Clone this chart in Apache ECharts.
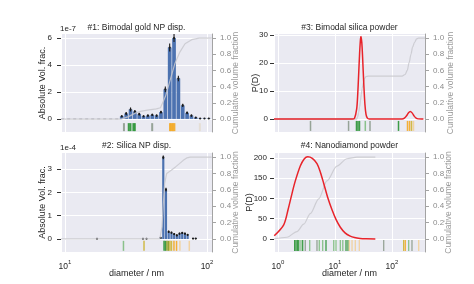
<!DOCTYPE html>
<html>
<head>
<meta charset="utf-8">
<script src="https://cdn.jsdelivr.net/npm/echarts@6/dist/echarts.min.js"></script>
<style>
  html, body { margin: 0; padding: 0; background: #fff; }
  #chart { width: 474px; height: 284px; }
</style>
</head>
<body>
<div id="chart"></div>
<script>
  const FONT = 'Liberation Sans';

  const panelTitles = ['#1: Bimodal gold NP disp.', '#2: Silica NP disp.', '#3: Bimodal silica powder', '#4: Nanodiamond powder'];
  const scaleNotes = ['1e-7', '1e-4'];

  // tick labels
  const leftTicks = [[0, 2, 4, 6], [0, 1, 2, 3], [0, 10, 20, 30], [0, 50, 100, 150, 200]];
  const cumTicks = [0, 0.2, 0.4, 0.6, 0.8, 1.0];
  const xTicksNp = [10, 100];
  const xTicksPowder = [1, 10, 100];

  // #1 gold NP: bin centre (nm), abs. vol. fraction (x1e-7), error
  const goldD = [25.1, 26.96, 28.93, 31.04, 33.31, 35.74, 38.35, 41.16, 44.17, 47.39, 50.85, 54.58, 58.57, 62.85, 67.44, 72.37, 77.66, 83.32, 89.42, 95.94, 102.9];
  const goldV = [0.2, 0.4, 0.7, 0.55, 0.35, 0.2, 0.25, 0.3, 0.25, 0.5, 2.2, 5.3, 6.0, 3.0, 1.0, 0.45, 0.25, 0.1, 0.03, 0.03, 0.03];
  const goldErr = [0.08, 0.12, 0.15, 0.12, 0.1, 0.08, 0.08, 0.08, 0.08, 0.1, 0.2, 0.3, 0.3, 0.2, 0.12, 0.1, 0.08, 0.05, 0.03, 0.03, 0.03];
  const goldZeroD = [9.4, 24];
  const goldCumD = [9.4, 25, 28, 31, 34, 38, 44, 47, 48, 51, 55, 59.5, 64.5, 70, 78, 88, 108];
  const goldCum = [0, 0, 0.03, 0.07, 0.095, 0.11, 0.125, 0.14, 0.16, 0.28, 0.48, 0.69, 0.83, 0.93, 0.98, 1.0, 1.0];
  const goldRugD = [26.0, 28.1, 28.9, 30.3, 31.0, 41.1, 54.9, 56.2, 57.5, 58.9, 89];
  const goldRugKind = ['k', 'g', 'g', 'g', 'g', 'k', 'o', 'o', 'o', 'o', 'f'];

  // #2 silica NP (x1e-4)
  const silD = [16.8, 35.4, 37.5, 47.1, 49.2, 51.4, 53.7, 56.2, 58.7, 61.3, 64.0, 66.9, 69.9, 73.0, 79.7, 83.3];
  const silV = [0.01, 0.01, 0.01, 0.05, 3.5, 2.12, 0.31, 0.27, 0.21, 0.16, 0.23, 0.26, 0.23, 0.18, 0.02, 0.02];
  const silErr = [0.01, 0.01, 0.01, 0.03, 0.08, 0.08, 0.05, 0.04, 0.04, 0.04, 0.04, 0.04, 0.04, 0.04, 0.02, 0.02];
  const silCumD = [9.4, 46.5, 48.2, 49.2, 50.3, 52, 56, 60, 64, 68, 72, 76, 108];
  const silCum = [0, 0, 0.15, 0.42, 0.68, 0.8, 0.84, 0.88, 0.92, 0.96, 0.99, 1.0, 1.0];
  const silRugD = [25.8, 36.0, 49.8, 50.9, 52.2, 53.5, 54.8, 56.2, 58.5, 61.0, 64.4, 75.0];
  const silRugKind = ['G', 'y', 'g', 'g', 'm', 'm', 'y', 'y', 'o', 'o', 'l', 'l'];

  // #3 bimodal silica powder: P(D)
  const bsD = [0.85, 20, 22, 24, 25, 26, 27, 28, 28.6, 29.5, 30.5, 32, 33.5, 35, 37, 40, 150, 165, 180, 195, 209, 225, 245, 265, 290, 330, 355];
  const bsP = [0, 0, 0.3, 3.6, 8.6, 16, 23.4, 28.6, 29.5, 27.4, 22, 12.4, 5.2, 1.7, 0.3, 0, 0.04, 0.32, 1.15, 2.25, 2.7, 2.2, 1.05, 0.32, 0.05, 0, 0];
  const bsCumD = [0.85, 24, 25, 26, 27, 28, 29, 30, 31.5, 33, 35, 38, 150, 170, 185, 200, 215, 230, 250, 270, 290, 380];
  const bsCum = [0, 0, 0.03, 0.08, 0.15, 0.23, 0.31, 0.38, 0.45, 0.5, 0.525, 0.53, 0.53, 0.55, 0.6, 0.7, 0.8, 0.89, 0.95, 0.99, 1.0, 1.0];
  const bsRugD = [3.72, 17.3, 23.8, 25.3, 26.9, 34.0, 41.1, 130, 187, 203, 220, 238];
  const bsRugKind = ['k', 'k', 'g', 'g', 'g', 'G', 'k', 'g', 'o', 'o', 'y', 'l'];

  // #4 nanodiamond powder
  const ndD = [0.86, 1.26, 1.5, 1.76, 2.0, 2.46, 2.9, 3.32, 4.0, 4.83, 5.5, 6.34, 7.5, 8.86, 10.5, 12.4, 15, 18.5, 22, 27.5, 35, 51];
  const ndP = [8, 35, 72, 112, 142, 180, 198, 203, 199, 186, 166, 137, 101, 72, 47, 29, 15, 7, 3.5, 1.5, 0.7, 0.3];
  const ndCumD = [0.86, 1.44, 2.15, 2.83, 3.69, 5.18, 7.23, 10.8, 16.2, 24.3, 51];
  const ndCum = [0, 0.02, 0.09, 0.18, 0.31, 0.49, 0.71, 0.89, 0.98, 1.0, 1.0];
  const ndRugD = [1.96, 2.07, 2.19, 2.31, 2.53, 2.71, 3.01, 3.6, 4.83, 5.3, 6.08, 6.95, 9.5, 10.4, 12.4, 13.7, 15.6, 16.9, 17.8, 19.9, 22.7, 26.7, 71.5, 160, 171, 196, 224, 294];
  const ndRugKind = ['g', 'g', 'g', 'g', 'G', 'g', 'k', 'G', 'k', 'G', 'G', 'g', 'G', 'G', 'G', 'G', 'g', 'g', 'l', 'l', 'l', 'l', 'k', 'y', 'o', 'G', 'k', 'l'];

  const rugColor = { k: '#8d9b8d', g: '#2a9434', G: '#80bd80', m: '#8c9a1c', y: '#cdb536', o: '#f4a822', l: '#f2cf98', f: '#e4ddd2' };

  const pairs = (xs, ys) => xs.map((x, i) => [x, ys[i]]);
  const txt = { fontFamily: FONT, color: '#262626' };

  const grids = [
    { left: 61, top: 34, width: 151, height: 98 },
    { left: 61, top: 153, width: 151, height: 99 },
    { left: 274, top: 34, width: 151, height: 98 },
    { left: 274, top: 153, width: 151, height: 99 }
  ].map(g => Object.assign(g, { show: true, backgroundColor: '#eaeaf2', borderWidth: 0, containLabel: false, outerBoundsMode: 'none' }));

  function xAxis (i, min, max, ticks) {
    return {
      type: 'log', logBase: 10, gridIndex: i, min: min, max: max,
      axisLine: { show: false }, axisTick: { show: false },
      splitLine: { show: true, lineStyle: { color: '#ffffff', width: 1 } },
      axisLabel: ticks ? {
        show: true, margin: 7, customValues: ticks,
        formatter: v => '{a|10}{b|' + Math.round(Math.log10(v)) + '}',
        rich: {
          a: { fontFamily: FONT, fontSize: 8.5, color: '#262626', lineHeight: 12, verticalAlign: 'bottom' },
          b: { fontFamily: FONT, fontSize: 6, color: '#262626', lineHeight: 12, verticalAlign: 'top' }
        }
      } : { show: false },
      name: ticks ? 'diameter / nm' : '', nameLocation: 'middle', nameGap: 17, nameMoveOverlap: false,
      nameTextStyle: Object.assign({ fontSize: 9 }, txt)
    };
  }

  function yLeft (i, min, max, ticks, name, gap, margin) {
    return {
      type: 'value', gridIndex: i, position: 'left', min: min, max: max,
      axisLine: { show: false },
      axisTick: { show: true, length: 4, customValues: ticks, lineStyle: { color: '#333' } },
      axisLabel: {
        customValues: ticks, margin: margin, fontSize: 8, fontFamily: FONT, color: '#262626',
        formatter: v => ticks.indexOf(v) >= 0 ? String(v) : ''
      },
      splitLine: { show: true, lineStyle: { color: '#ffffff', width: 1 } },
      name: name, nameLocation: 'middle', nameGap: gap, nameMoveOverlap: false,
      nameTextStyle: Object.assign({ fontSize: 9 }, txt)
    };
  }

  function yRight (i, gap) {
    return {
      type: 'value', gridIndex: i, position: 'right', min: -0.16, max: 1.05,
      axisLine: { show: true, lineStyle: { color: '#a3a3a3', width: 1 } },
      axisTick: { show: true, length: 4, customValues: cumTicks, lineStyle: { color: '#a3a3a3' } },
      axisLabel: {
        customValues: cumTicks, margin: 8, fontSize: 8, fontFamily: FONT, color: '#8c8c8c',
        formatter: v => cumTicks.indexOf(v) >= 0 ? v.toFixed(1) : ''
      },
      splitLine: { show: false },
      name: 'Cumulative volume fraction', nameLocation: 'middle', nameGap: gap, nameMoveOverlap: false,
      nameTextStyle: { fontFamily: FONT, fontSize: 8.5, color: '#9a9a9a' }
    };
  }

  function barSeries (i, ds, vs, es, ratio) {
    const half = Math.sqrt(ratio);
    return {
      type: 'custom', xAxisIndex: i, yAxisIndex: 2 * i, z: 2, clip: true,
      data: ds.map((d, k) => [d, vs[k], es[k]]),
      renderItem: (params, api) => {
        const d = api.value(0), h = api.value(1), e = api.value(2);
        const p0 = api.coord([d / half, 0]);
        const p1 = api.coord([d * half, h]);
        const mid = api.coord([d, h]);
        const top = api.coord([d, h + e]);
        const bot = api.coord([d, Math.max(h - e, 0)]);
        return {
          type: 'group',
          children: [
            { type: 'rect', shape: { x: p0[0], y: p1[1], width: p1[0] - p0[0], height: p0[1] - p1[1] }, style: { fill: '#4c72b0' } },
            { type: 'line', shape: { x1: top[0], y1: top[1], x2: bot[0], y2: bot[1] }, style: { stroke: '#1a1a1a', lineWidth: 1.1 } },
            { type: 'circle', shape: { cx: mid[0], cy: mid[1], r: 1.1 }, style: { fill: '#1a1a1a' } }
          ]
        };
      }
    };
  }

  function cumSeries (i, ds, vs, smooth) {
    return {
      type: 'line', xAxisIndex: i, yAxisIndex: 2 * i + 1, z: 3,
      data: pairs(ds, vs), showSymbol: false, smooth: smooth, smoothMonotone: 'x',
      lineStyle: { color: 'rgba(200,200,206,0.85)', width: 1.2 }
    };
  }

  function rugSeries (i, ds, kinds, y, size) {
    return {
      type: 'scatter', xAxisIndex: i, yAxisIndex: 2 * i + 1, z: 2,
      symbol: 'rect', symbolSize: size,
      data: ds.map((d, k) => ({ value: [d, y], itemStyle: { color: rugColor[kinds[k]], opacity: 0.9 } }))
    };
  }

  function pdSeries (i, ds, vs, smooth) {
    return {
      type: 'line', xAxisIndex: i, yAxisIndex: 2 * i, z: 4,
      data: pairs(ds, vs), showSymbol: false, smooth: smooth,
      lineStyle: { color: '#e8232a', width: 1.5 }
    };
  }

  const graphicTexts = [
    [136.5, 27.5], [136.5, 146], [349.5, 27.5], [349.5, 146]
  ].map((p, k) => ({
    type: 'text', x: p[0], y: p[1],
    style: { text: panelTitles[k], fill: '#262626', font: '8.5px "' + FONT + '"', textAlign: 'center', textVerticalAlign: 'middle' }
  })).concat([[60, 29], [60, 148]].map((p, k) => ({
    type: 'text', x: p[0], y: p[1],
    style: { text: scaleNotes[k], fill: '#262626', font: '8px "' + FONT + '"', textAlign: 'left', textVerticalAlign: 'middle' }
  })));

  const chart = echarts.init(document.getElementById('chart'), null, { renderer: 'canvas' });
  chart.setOption({
    animation: false,
    backgroundColor: '#ffffff',
    textStyle: { fontFamily: FONT },
    grid: grids,
    graphic: graphicTexts,
    xAxis: [
      xAxis(0, 9.37, 108.4, null),
      xAxis(1, 9.37, 108.4, xTicksNp),
      xAxis(2, 0.851, 379, null),
      xAxis(3, 0.851, 379, xTicksPowder)
    ],
    yAxis: [
      yLeft(0, -0.97, 6.3, leftTicks[0], 'Absolute Vol. frac.', 14, 9), yRight(0, 19),
      yLeft(1, -0.557, 3.69, leftTicks[1], 'Absolute Vol. frac.', 14, 9), yRight(1, 19),
      yLeft(2, -4.64, 30.4, leftTicks[2], 'P(D)', 14, 6), yRight(2, 21),
      yLeft(3, -32, 212, leftTicks[3], 'P(D)', 20, 7), yRight(3, 19)
    ],
    series: [
      {
        type: 'line', xAxisIndex: 0, yAxisIndex: 0, z: 2, showSymbol: false,
        data: goldZeroD.map(d => [d, 0]),
        lineStyle: { color: '#a9a9b2', width: 1, type: [3, 3] }
      },
      barSeries(0, goldD, goldV, goldErr, 1.062),
      cumSeries(0, goldCumD, goldCum, false),
      rugSeries(0, goldRugD, goldRugKind, -0.1, [2, 8]),

      barSeries(1, silD, silV, silErr, 1.036),
      cumSeries(1, silCumD, silCum, false),
      rugSeries(1, silRugD, silRugKind, -0.085, [1.5, 10]),

      cumSeries(2, bsCumD, bsCum, 0.3),
      pdSeries(2, bsD, bsP, 0.3),
      rugSeries(2, bsRugD, bsRugKind, -0.085, [1.5, 10]),

      cumSeries(3, ndCumD, ndCum, 0.3),
      pdSeries(3, ndD, ndP, 0.3),
      rugSeries(3, ndRugD, ndRugKind, -0.08, [1.3, 11])
    ]
  });
  window.addEventListener('resize', () => chart.resize());
</script>
</body>
</html>
